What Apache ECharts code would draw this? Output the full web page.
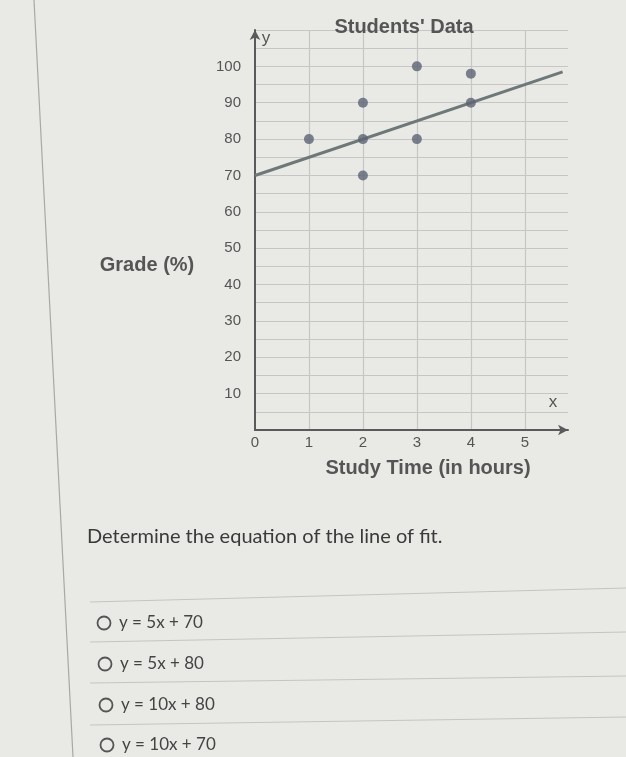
<!DOCTYPE html>
<html>
<head>
<meta charset="utf-8">
<script src="https://cdn.jsdelivr.net/npm/echarts@6/dist/echarts.min.js"></script>
<style>
  html, body { margin: 0; padding: 0; background: #e9e9e6; }
  #chart { width: 626px; height: 757px; }
</style>
</head>
<body>
<div id="chart"></div>
<script>
// study time (hours) and grade (%) for each student
const studyHours = [1, 2, 2, 2, 3, 3, 4, 4];
const grades = [80, 90, 80, 70, 100, 80, 98, 90];
// the drawn line of fit, two ends
const fitX = [0, 5.7];
const fitY = [70, 98.5];
const xTicks = [0, 1, 2, 3, 4, 5];
const yTicks = [10, 20, 30, 40, 50, 60, 70, 80, 90, 100];
const question = 'Determine the equation of the line of fit.';
const answers = ['y = 5x + 70', 'y = 5x + 80', 'y = 10x + 80', 'y = 10x + 70'];

const chart = echarts.init(document.getElementById('chart'));

const points = studyHours.map((h, i) => [h, grades[i]]);
const fitLine = fitX.map((x, i) => [x, fitY[i]]);

const textGray = '#555';
const gridGray = '#c6c6c4';
const font = 'Liberation Sans, Arial, sans-serif';

// question and answer rows below the chart
const answerY = [623, 664, 705, 745];
const sepLines = [[602, 588], [642, 632], [683, 676], [725, 717]];
const graphics = [
  { type: 'line', silent: true, shape: { x1: 34, y1: 0, x2: 73, y2: 757 },
    style: { stroke: '#a8a8a6', lineWidth: 1.2 } },
  { type: 'text', x: 404, y: 27, z: 100,
    style: { text: "Students' Data", font: 'bold 20px ' + font, fill: textGray,
      align: 'center', verticalAlign: 'middle' } },
  { type: 'text', x: 147, y: 265,
    style: { text: 'Grade (%)', font: 'bold 20px ' + font, fill: textGray,
      align: 'center', verticalAlign: 'middle' } },
  { type: 'text', x: 428, y: 468,
    style: { text: 'Study Time (in hours)', font: 'bold 20px ' + font, fill: textGray,
      align: 'center', verticalAlign: 'middle' } },
  { type: 'text', x: 266, y: 38, z: 100,
    style: { text: 'y', font: '17px ' + font, fill: textGray,
      align: 'center', verticalAlign: 'middle' } },
  { type: 'text', x: 553, y: 402, z: 100,
    style: { text: 'x', font: '17px ' + font, fill: textGray,
      align: 'center', verticalAlign: 'middle' } },
  { type: 'text', x: 87, y: 537,
    style: { text: question, font: '20px Lato, sans-serif', fill: '#3a3a3a',
      verticalAlign: 'middle' } }
];
sepLines.forEach(([y1, y2]) => {
  graphics.push({ type: 'line', silent: true, shape: { x1: 90, y1: y1, x2: 626, y2: y2 },
    style: { stroke: '#c4c4c2', lineWidth: 1.2 } });
});
answers.forEach((a, i) => {
  graphics.push({ type: 'circle', shape: { cx: 104 + i, cy: answerY[i], r: 6.5 },
    style: { fill: 'none', stroke: '#555', lineWidth: 1.8 } });
  graphics.push({ type: 'text', x: 119 + i, y: answerY[i],
    style: { text: a, font: '17px Lato, sans-serif', fill: '#444',
      verticalAlign: 'middle' } });
});

chart.setOption({
  backgroundColor: '#e9e9e6',
  animation: false,
  grid: { left: 255, top: 30, width: 313, height: 400 },
  xAxis: {
    type: 'value', min: 0, max: 5.8, interval: 1,
    axisLine: { show: true, symbol: ['none', 'arrow'], symbolSize: [8, 10],
      lineStyle: { color: '#5a5a5a', width: 2 } },
    axisTick: { show: false },
    axisLabel: { fontFamily: font, fontSize: 15, color: textGray, margin: 5,
      showMaxLabel: false,
      formatter: v => (xTicks.includes(v) ? String(v) : '') },
    splitLine: { show: false }
  },
  yAxis: {
    type: 'value', min: 0, max: 110, interval: 10,
    axisLine: { show: true, symbol: ['none', 'arrow'], symbolSize: [8, 10],
      lineStyle: { color: '#5a5a5a', width: 2 } },
    axisTick: { show: false },
    axisLabel: { fontFamily: font, fontSize: 15, color: textGray, margin: 14,
      showMinLabel: false, showMaxLabel: false,
      formatter: v => (yTicks.includes(v) ? String(v) : '') },
    splitLine: { show: true, lineStyle: { color: gridGray, width: 1.2 } },
    minorTick: { show: false, splitNumber: 2 },
    minorSplitLine: { show: true, lineStyle: { color: gridGray, width: 1.2 } }
  },
  series: [
    {
      // vertical grid lines at whole hours
      type: 'line', data: [], silent: true, z: 0,
      markLine: {
        silent: true, symbol: 'none', label: { show: false }, z: 0,
        lineStyle: { color: gridGray, width: 1.2, type: 'solid' },
        data: xTicks.filter(v => v > 0).map(v => ({ xAxis: v }))
      }
    },
    {
      type: 'line', data: fitLine, showSymbol: false, silent: true,
      lineStyle: { color: '#6f7878', width: 3 }, z: 5
    },
    {
      type: 'scatter', data: points, symbolSize: 10,
      itemStyle: { color: '#5d6473' }, z: 10
    }
  ],
  graphic: graphics
});
</script>
</body>
</html>
